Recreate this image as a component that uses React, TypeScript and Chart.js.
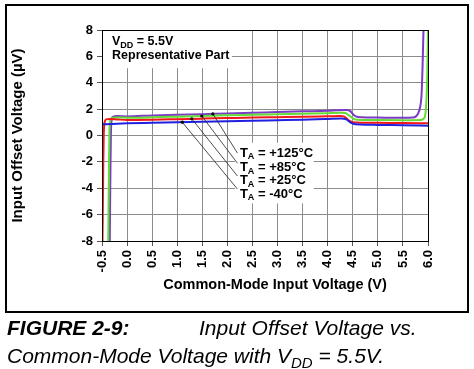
import React, { useEffect, useRef } from 'react';
import { Chart, registerables } from 'chart.js';

Chart.register(...registerables);

// ---------- data ----------
const xTickValues = [-0.5, 0, 0.5, 1, 1.5, 2, 2.5, 3, 3.5, 4, 4.5, 5, 5.5, 6];
const yTickValues = [-8, -6, -4, -2, 0, 2, 4, 6, 8];

const seriesLabels = ['+125°C', '+85°C', '+25°C', '-40°C'];
const xTitle = 'Common-Mode Input Voltage (V)';
const yTitle = 'Input Offset Voltage (µV)';

// T_A = +125°C
const vcm125 = [-0.345, -0.338, -0.33, -0.322, -0.31, -0.29, -0.2, 0, 0.5, 1.0, 1.5, 2.0, 2.5, 3.0, 3.5, 4.0, 4.2, 4.38, 4.45, 4.52, 4.6, 4.8, 5.0, 5.5, 5.7, 5.76, 5.8, 5.84, 5.87, 5.89, 5.91];
const vos125 = [-8, -5, -2, 0.2, 1.1, 1.4, 1.47, 1.45, 1.52, 1.57, 1.62, 1.67, 1.72, 1.78, 1.83, 1.88, 1.92, 1.93, 1.85, 1.55, 1.4, 1.37, 1.36, 1.34, 1.36, 1.45, 1.65, 2.1, 3.0, 5.0, 8];

// T_A = +85°C
const vcm85 = [-0.375, -0.368, -0.36, -0.352, -0.34, -0.32, -0.2, 0, 0.5, 1.0, 1.5, 2.0, 2.5, 3.0, 3.5, 4.0, 4.25, 4.35, 4.45, 4.55, 4.7, 5.0, 5.5, 5.85, 5.92, 5.95, 5.97, 5.985, 6.0];
const vos85 = [-8, -5, -2, 0.2, 1.0, 1.3, 1.37, 1.35, 1.38, 1.43, 1.48, 1.53, 1.57, 1.61, 1.65, 1.69, 1.72, 1.7, 1.45, 1.22, 1.18, 1.17, 1.16, 1.18, 1.3, 1.7, 2.8, 4.5, 8];

// T_A = +25°C
const vcm25 = [-0.49, -0.482, -0.474, -0.466, -0.455, -0.44, -0.42, -0.35, -0.2, 0, 0.5, 1.0, 1.5, 2.0, 2.5, 3.0, 3.5, 4.0, 4.25, 4.32, 4.42, 4.5, 4.7, 5.0, 5.5, 6.0];
const vos25 = [-8, -5, -2, 0, 0.8, 1.1, 1.22, 1.25, 1.22, 1.18, 1.2, 1.24, 1.28, 1.32, 1.36, 1.39, 1.42, 1.46, 1.48, 1.45, 1.15, 1.0, 0.97, 0.96, 0.95, 0.92];

// T_A = -40°C
const vcmM40 = [-0.48, -0.3, 0, 0.5, 1.0, 1.5, 2.0, 2.5, 3.0, 3.5, 4.0, 4.28, 4.36, 4.45, 4.55, 4.8, 5.0, 5.5, 6.0];
const vosM40 = [0.85, 0.88, 0.92, 0.96, 1.0, 1.04, 1.08, 1.12, 1.16, 1.2, 1.25, 1.28, 1.24, 1.0, 0.85, 0.82, 0.8, 0.78, 0.74];

// where each leader line touches its curve (V)
const leaderVcm = [1.71, 1.49, 1.29, 1.1];

// ---------- styles ----------
const FONT = '"Liberation Sans", Arial, Helvetica, sans-serif';
const seriesColors = ['#7a3cc4', '#63dc34', '#f01818', '#2020e0'];
const seriesX = [vcm125, vcm85, vcm25, vcmM40];
const seriesY = [vos125, vos85, vos25, vosM40];

// annotation layout (data units)
const vddBox = { x0: -0.5, x1: 2.09, y0: 8, y1: 5.1 };
const legBox = { x0: 2.15, x1: 3.72, y0: -0.55, y1: -5.15 };
const vddTextX = -0.3;
const vddTextY = [7.12, 6.1];
const legTextX = 2.25;
const legTextY = [-1.33, -2.44, -3.44, -4.44];
const leaderEndX = 2.2;
const leaderEndY = [-1.33, -2.1, -3.07, -4.06];

function interp(xs: number[], ys: number[], v: number) {
  for (let i = 0; i < xs.length - 1; i++) {
    if (v >= xs[i] && v <= xs[i + 1]) {
      const t = (v - xs[i]) / (xs[i + 1] - xs[i]);
      return ys[i] + t * (ys[i + 1] - ys[i]);
    }
  }
  return ys[ys.length - 1];
}

function drawSubText(ctx: CanvasRenderingContext2D, x: number, y: number, base: string, sub: string, rest: string, size: number) {
  ctx.textAlign = 'left';
  ctx.textBaseline = 'middle';
  ctx.font = `bold ${size}px ${FONT}`;
  ctx.fillText(base, x, y);
  let w = ctx.measureText(base).width;
  const ss = Math.round(size * 0.7);
  ctx.font = `bold ${ss}px ${FONT}`;
  ctx.fillText(sub, x + w, y + size * 0.3);
  w += ctx.measureText(sub).width;
  ctx.font = `bold ${size}px ${FONT}`;
  ctx.fillText(rest, x + w, y);
}

const annotationPlugin = {
  id: 'annotations',
  beforeDatasetsDraw(chart: any) {
    const { ctx, scales } = chart;
    const x = scales.x, y = scales.y;
    ctx.save();
    ctx.fillStyle = '#ffffff';
    for (const b of [vddBox, legBox]) {
      const l = x.getPixelForValue(b.x0), r = x.getPixelForValue(b.x1);
      const t = y.getPixelForValue(b.y0), bt = y.getPixelForValue(b.y1);
      ctx.fillRect(l, t, r - l, bt - t);
    }
    ctx.restore();
  },
  afterDatasetsDraw(chart: any) {
    const { ctx, scales } = chart;
    const x = scales.x, y = scales.y;
    ctx.save();
    ctx.fillStyle = '#000';
    drawSubText(ctx, x.getPixelForValue(vddTextX), y.getPixelForValue(vddTextY[0]), 'V', 'DD', ' = 5.5V', 12.5);
    ctx.font = `bold 12.5px ${FONT}`;
    ctx.textBaseline = 'middle';
    ctx.fillText('Representative Part', x.getPixelForValue(vddTextX), y.getPixelForValue(vddTextY[1]));

    for (let i = 0; i < seriesLabels.length; i++) {
      const px = x.getPixelForValue(leaderVcm[i]);
      const py = y.getPixelForValue(interp(seriesX[i], seriesY[i], leaderVcm[i]));
      const ex = x.getPixelForValue(leaderEndX);
      const ey = y.getPixelForValue(leaderEndY[i]);
      ctx.strokeStyle = '#222';
      ctx.lineWidth = 0.8;
      ctx.beginPath();
      ctx.moveTo(px, py);
      ctx.lineTo(ex, ey);
      ctx.stroke();
      ctx.fillStyle = '#000';
      ctx.beginPath();
      ctx.arc(px, py, 1.6, 0, Math.PI * 2);
      ctx.fill();
      drawSubText(ctx, x.getPixelForValue(legTextX), y.getPixelForValue(legTextY[i]), 'T', 'A', ' = ' + seriesLabels[i], 13);
    }
    ctx.restore();
  },
  afterDraw(chart: any) {
    const { ctx, chartArea } = chart;
    ctx.save();
    ctx.strokeStyle = '#000';
    ctx.lineWidth = 1;
    ctx.strokeRect(Math.round(chartArea.left) + 0.5, Math.round(chartArea.top) + 0.5,
      Math.round(chartArea.right - chartArea.left), Math.round(chartArea.bottom - chartArea.top));
    // x-axis title (slightly right of plot centre, as in the original)
    ctx.fillStyle = '#000';
    ctx.font = `bold 14.5px ${FONT}`;
    ctx.textAlign = 'center';
    ctx.textBaseline = 'middle';
    ctx.fillText(xTitle, (chartArea.left + chartArea.right) / 2 + 10, chartArea.bottom + 44);
    ctx.restore();
  },
};

export default function App() {
  const canvasRef = useRef<HTMLCanvasElement | null>(null);

  useEffect(() => {
    if (!canvasRef.current) return;
    const order = [3, 2, 1, 0];
    const datasets = order.map((i) => ({
      label: 'T_A = ' + seriesLabels[i],
      data: seriesX[i].map((v, k) => ({ x: v, y: seriesY[i][k] })),
      borderColor: seriesColors[i],
      backgroundColor: seriesColors[i],
      borderWidth: 2,
      pointRadius: 0,
      cubicInterpolationMode: 'monotone' as const,
      fill: false,
    }));

    const chart = new Chart(canvasRef.current, {
      type: 'line',
      data: { datasets },
      plugins: [annotationPlugin],
      options: {
        animation: false,
        responsive: false,
        maintainAspectRatio: false,
        layout: { padding: { left: 0, top: 30, right: 46, bottom: 11 } },
        plugins: { legend: { display: false }, tooltip: { enabled: false } },
        scales: {
          x: {
            type: 'linear',
            min: -0.5,
            max: 6,
            afterBuildTicks: (s: any) => { s.ticks = xTickValues.map((v) => ({ value: v })); },
            afterFit: (s: any) => { s.height = 60; },
            ticks: {
              color: '#000',
              font: { family: FONT, size: 13, weight: 'bold' },
              minRotation: 90,
              maxRotation: 90,
              padding: 4,
              callback: (v: any) => Number(v).toFixed(1),
            },
            grid: { color: '#8c8c8c', lineWidth: 1, tickLength: 5, tickColor: '#555' },
            border: { color: '#000', width: 1 },
            title: { display: false, text: xTitle },
          },
          y: {
            type: 'linear',
            min: -8,
            max: 8,
            afterBuildTicks: (s: any) => { s.ticks = yTickValues.map((v) => ({ value: v })); },
            afterFit: (s: any) => { s.width = 102; },
            ticks: {
              color: '#000',
              font: { family: FONT, size: 13, weight: 'bold' },
              padding: 4,
              callback: (v: any) => String(v),
            },
            grid: { color: '#8c8c8c', lineWidth: 1, tickLength: 5, tickColor: '#555' },
            border: { color: '#000', width: 1 },
            title: {
              display: true,
              text: yTitle,
              color: '#000',
              font: { family: FONT, size: 15, weight: 'bold' },
              padding: { top: 9, bottom: 0 },
            },
          },
        },
      },
    });
    return () => chart.destroy();
  }, []);

  return (
    <div style={{ position: 'absolute', left: 0, top: 0, width: 474, height: 369, background: '#fff', overflow: 'hidden' }}>
      <canvas ref={canvasRef} width={474} height={312} style={{ position: 'absolute', left: 0, top: 0, width: 474, height: 312 }} />
      <div style={{ position: 'absolute', left: 5, top: 4, width: 464, height: 309, border: '2px solid #000', boxSizing: 'border-box', pointerEvents: 'none' }} />
      <div style={{ position: 'absolute', left: 7, top: 314, font: `italic 21px ${FONT}`, lineHeight: '28px', whiteSpace: 'nowrap', color: '#000' }}>
        <div style={{ position: 'relative', height: 28 }}>
          <b>FIGURE 2-9:</b>
          <span style={{ position: 'absolute', left: 192, top: 0 }}>Input Offset Voltage vs.</span>
        </div>
        <div style={{ height: 28 }}>
          Common-Mode Voltage with V<span style={{ fontSize: 15, position: 'relative', top: 5 }}>DD</span> = 5.5V.
        </div>
      </div>
    </div>
  );
}
